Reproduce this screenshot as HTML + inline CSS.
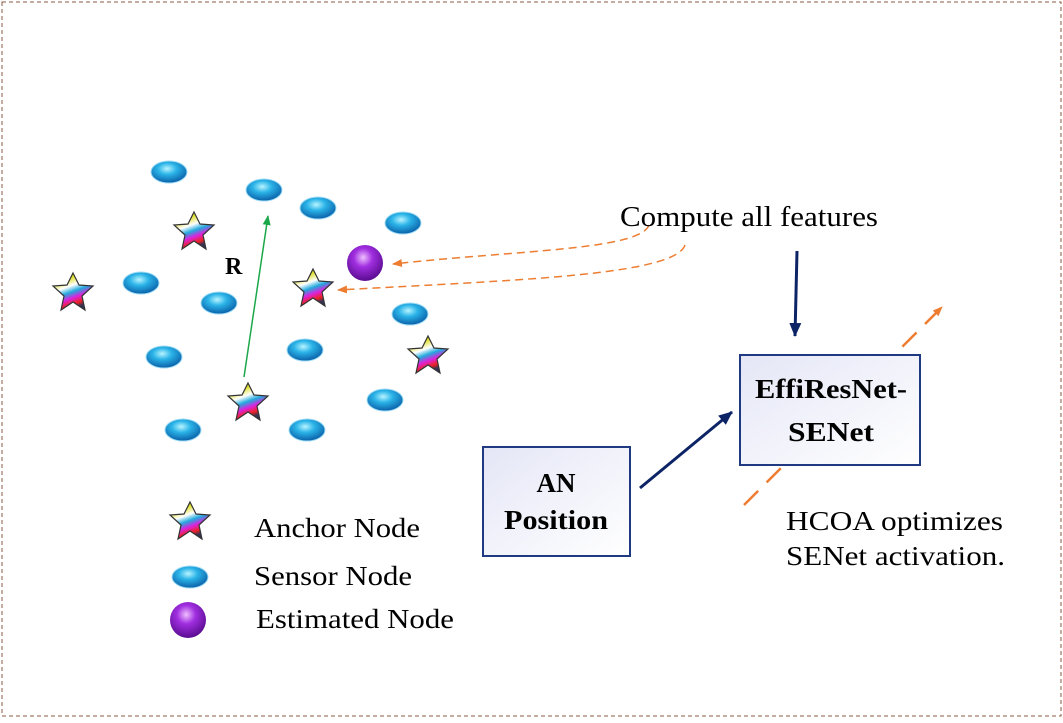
<!DOCTYPE html><html><head><style>body{margin:0;background:#fff}</style></head><body>
<svg width="1063" height="718" xmlns="http://www.w3.org/2000/svg" font-family="'Liberation Serif', serif">
<defs>
<radialGradient id="s" cx="45%" cy="35%" r="65%"><stop offset="0" stop-color="#b8f4ff"/><stop offset="0.4" stop-color="#2bb4e8"/><stop offset="1" stop-color="#0a5fa8"/></radialGradient>
<radialGradient id="p" cx="45%" cy="35%" r="65%"><stop offset="0" stop-color="#f0c0ff"/><stop offset="0.4" stop-color="#a02ee0"/><stop offset="1" stop-color="#5a0c90"/></radialGradient>
<linearGradient id="r" x1="0" y1="0" x2="0.4" y2="1"><stop offset="0" stop-color="#3a3"/><stop offset=".25" stop-color="#dd2"/><stop offset=".45" stop-color="#fff"/><stop offset=".6" stop-color="#2ad"/><stop offset=".75" stop-color="#d2d"/><stop offset=".9" stop-color="#e22"/><stop offset="1" stop-color="#335"/></linearGradient>
<linearGradient id="b" x1="0" y1="0" x2="1" y2="1"><stop offset="0" stop-color="#e4e6f6"/><stop offset="1" stop-color="#fff"/></linearGradient>
<g id="st"><polygon points="0,-19 6,-7 20,-6 9,4 12,18 0,10 -12,18 -9,4 -20,-6 -6,-7" fill="url(#r)" stroke="#333" stroke-width="1.2"/></g>
<g id="se"><ellipse rx="18" ry="11" fill="url(#s)" stroke="#9ddcf5" stroke-width="1"/></g>
<marker id="ao" markerWidth="10" markerHeight="8" refX="9" refY="4" orient="auto" markerUnits="userSpaceOnUse"><path d="M0,0L10,4L0,8z" fill="#ed7d31"/></marker>
<marker id="ab" markerWidth="14" markerHeight="12" refX="13" refY="6" orient="auto" markerUnits="userSpaceOnUse"><path d="M0,0L14,6L0,12z" fill="#0c2366"/></marker>
<marker id="ag" markerWidth="10" markerHeight="8" refX="9" refY="4" orient="auto" markerUnits="userSpaceOnUse"><path d="M0,0L10,4L0,8z" fill="#1aa84a"/></marker>
</defs>
<rect x="2" y="2" width="1059" height="714" fill="none" stroke="#8a5a40" stroke-dasharray="4,3"/>
<g>
<use href="#se" x="169" y="172"/><use href="#se" x="264" y="190"/><use href="#se" x="318" y="208"/><use href="#se" x="403" y="223"/><use href="#se" x="141" y="283"/><use href="#se" x="219" y="303"/><use href="#se" x="410" y="314"/><use href="#se" x="305" y="350"/><use href="#se" x="164" y="357"/><use href="#se" x="385" y="400"/><use href="#se" x="183" y="430"/><use href="#se" x="307" y="430"/><use href="#se" x="190" y="577"/>
<use href="#st" x="194" y="231"/><use href="#st" x="73" y="292"/><use href="#st" x="313" y="288"/><use href="#st" x="428" y="355"/><use href="#st" x="248" y="402"/><use href="#st" x="190" y="521"/>
<circle cx="365" cy="263" r="18" fill="url(#p)"/><circle cx="188" cy="620" r="18" fill="url(#p)"/>
</g>
<line x1="244" y1="377" x2="268" y2="216" stroke="#1aa84a" stroke-width="1.5" marker-end="url(#ag)"/>
<text x="225" y="274" font-size="24" font-weight="bold">R</text>
<path d="M649,225 C640,250 520,250 393,264" fill="none" stroke="#ed7d31" stroke-width="1.5" stroke-dasharray="8,5" marker-end="url(#ao)"/>
<path d="M685,245 C675,275 520,280 338,290" fill="none" stroke="#ed7d31" stroke-width="1.5" stroke-dasharray="8,5" marker-end="url(#ao)"/>
<text x="620" y="226" font-size="28" textLength="258" lengthAdjust="spacingAndGlyphs">Compute all features</text>
<line x1="797" y1="251" x2="795" y2="336" stroke="#0c2366" stroke-width="3" marker-end="url(#ab)"/>
<line x1="744" y1="505" x2="942" y2="307" stroke="#ed7d31" stroke-width="2.5" stroke-dasharray="20,12" marker-end="url(#ao)"/>
<rect x="740" y="355" width="180" height="110" fill="url(#b)" stroke="#1f3a80" stroke-width="2"/>
<text x="755" y="398" font-size="27" font-weight="bold" textLength="152" lengthAdjust="spacingAndGlyphs">EffiResNet-</text>
<text x="788" y="441" font-size="27" font-weight="bold" textLength="86" lengthAdjust="spacingAndGlyphs">SENet</text>
<rect x="483" y="447" width="147" height="109" fill="url(#b)" stroke="#1f3a80" stroke-width="2"/>
<text x="556" y="492" font-size="27" font-weight="bold" text-anchor="middle">AN</text>
<text x="504" y="529" font-size="27" font-weight="bold" textLength="104" lengthAdjust="spacingAndGlyphs">Position</text>
<line x1="640" y1="488" x2="732" y2="412" stroke="#0c2366" stroke-width="3" marker-end="url(#ab)"/>
<text x="786" y="530" font-size="27" textLength="217" lengthAdjust="spacingAndGlyphs">HCOA optimizes</text>
<text x="786" y="565" font-size="27" textLength="219" lengthAdjust="spacingAndGlyphs">SENet activation.</text>
<text x="254" y="537" font-size="27" textLength="166" lengthAdjust="spacingAndGlyphs">Anchor Node</text>
<text x="254" y="585" font-size="27" textLength="158" lengthAdjust="spacingAndGlyphs">Sensor Node</text>
<text x="256" y="628" font-size="27" textLength="198" lengthAdjust="spacingAndGlyphs">Estimated Node</text>
</svg></body></html>
